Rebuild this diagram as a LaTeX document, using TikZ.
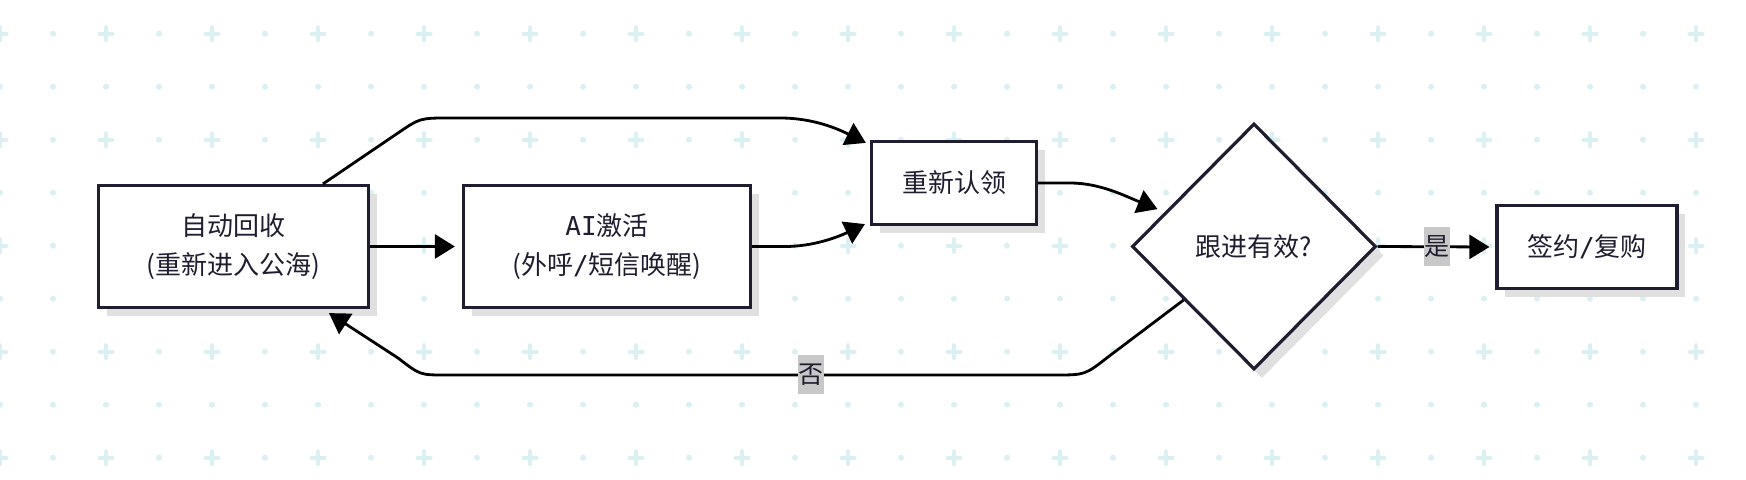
\documentclass[tikz,border=0pt]{standalone}
\usepackage{fontspec}
\setmainfont{Noto Sans CJK SC}
\newfontfamily\mymonofont{DejaVu Sans Mono}
\newcommand\mm[1]{{\mymonofont #1}}
\usetikzlibrary{arrows.meta,shapes.geometric,shadows,calc}
\definecolor{gridc}{RGB}{218,240,243}
\definecolor{ink}{RGB}{30,30,48}
\definecolor{lblbg}{RGB}{200,200,200}
\definecolor{shadowc}{RGB}{224,224,224}
\begin{document}
\begin{tikzpicture}[x=0.5pt,y=-0.5pt,
  box/.style={draw=ink, line width=1.6pt, fill=white, text=ink, align=center, inner sep=0pt,
    font=\fontsize{13pt}{19.5pt}\selectfont,
    general shadow={fill=shadowc, shadow xshift=4pt, shadow yshift=-4.5pt}},
  dia/.style={box, shape=diamond, aspect=1},
  arr/.style={-{Triangle[length=10pt,width=12pt]}, line width=1.4pt, black},
  lbl/.style={fill=lblbg, text=ink, inner sep=0pt, minimum width=13pt, minimum height=19.5pt,
    font=\fontsize{12.5pt}{14pt}\selectfont},
  crossmark/.style={gridc, line width=2pt, line cap=round},
]
\useasboundingbox (0,0) rectangle (1746,480);
\fill[white] (0,0) rectangle (1746,480);
% background pattern
\foreach \k in {0,...,8}{
  \foreach \j in {0,...,33}{
    \pgfmathsetmacro\yy{33.7+53*\k}
    \pgfmathsetmacro\xx{53*\j}
    \pgfmathtruncatemacro\parity{mod(\k,2)+mod(\j,2)}
    \ifnum\parity=0
      \draw[crossmark] (\xx-6.5,\yy) -- (\xx+6.5,\yy) (\xx,\yy-6.5) -- (\xx,\yy+6.5);
    \else
      \fill[gridc] (\xx,\yy) circle[radius=1.5pt];
    \fi
  }
}
% nodes
\node[box, minimum width=135pt, minimum height=61pt] (b1) at (233.5,246.5) {自动回收\\(重新进入公海)};
\node[box, minimum width=143.5pt, minimum height=61pt] (b2) at (607,246.5) {\mm{AI}激活\\(外呼\mm{/}短信唤醒)};
\node[box, minimum width=82.5pt, minimum height=41.5pt] (b3) at (954,183) {重新认领};
\node[dia, minimum width=122pt, minimum height=123pt] (d) at (1254,246.5) {跟进有效?};
\node[box, minimum width=90pt, minimum height=41.5pt] (b5) at (1587,247) {签约\mm{/}复购};
% connectors
\draw[arr] (b1.east) -- ([xshift=-3.5pt]b2.west);
\draw[arr] ([xshift=44.75pt]b1.north) -- (398,133) .. controls (420,118) .. (450,118) -- (780,118)
  .. controls (815,118) and (840,130) .. ([xshift=-2pt,yshift=-1.5pt]b3.north west);
\draw[arr] (b2.east) -- (785,246.5) .. controls (815,246.5) and (840,236) .. ([xshift=-2.5pt,yshift=1pt]b3.south west);
\draw[arr] (b3.east) -- (1070,183) .. controls (1100,183) and (1125,196) .. ($(d.west)!0.3!(d.north)+(-5pt,0pt)$);
\draw[arr] (d.east) -- node[lbl, pos=0.53]{是} ([xshift=-3pt]b5.west);
\draw[arr] ($(d.west)!0.43!(d.south)$) -- (1108,357) .. controls (1085,375) .. (1055,375)
  -- node[lbl, pos=0.4]{否} (445,375) .. controls (420,375) .. (398,358)
  -- ([xshift=47.75pt,yshift=-2pt]b1.south);
\end{tikzpicture}
\end{document}
